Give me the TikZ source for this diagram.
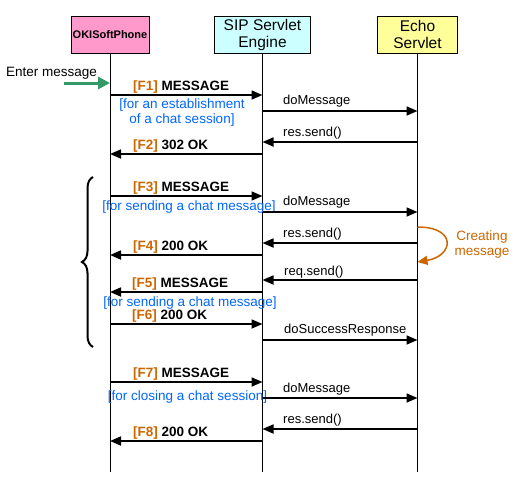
\documentclass[tikz,border=0pt]{standalone}
\usepackage{fontspec}
\setmainfont{Liberation Sans}
\usepackage{tikz}
\usetikzlibrary{arrows.meta,decorations.pathreplacing}
\definecolor{phonepink}{RGB}{255,153,204}
\definecolor{enginecyan}{RGB}{204,255,255}
\definecolor{echoyellow}{RGB}{255,255,153}
\definecolor{flowtag}{RGB}{204,102,0}
\definecolor{notetext}{RGB}{0,102,255}
\definecolor{inputgreen}{RGB}{51,153,102}
\tikzset{
  actor/.style={
    draw=black,
    line width=0.8pt,
    align=center,
    inner sep=0pt,
    minimum height=37pt,
    font=\fontsize{15.5}{17}\selectfont
  },
  lifeline/.style={draw=black,line width=0.8pt},
  msg/.style={-{Triangle[length=11pt,width=9pt]},draw=black,line width=1.7pt},
  msglabel/.style={inner sep=0pt,anchor=base west,font=\fontsize{13}{15}\selectfont},
  flabel/.style={msglabel,font=\fontsize{13.5}{15}\selectfont\bfseries},
  note/.style={inner sep=0pt,align=center,text=notetext,font=\fontsize{13.5}{15}\selectfont},
  entry/.style={-{Triangle[length=12pt,width=12pt]},draw=inputgreen,line width=3pt},
  selfcall/.style={-{Triangle[length=10pt,width=9pt]},draw=flowtag,line width=1.5pt},
  sessionbrace/.style={decorate,decoration={brace,amplitude=11pt},draw=black,line width=2pt}
}
\begin{document}
\begin{tikzpicture}[x=1pt,y=-1pt]
\useasboundingbox (0,0) rectangle (517,483);
% participants
\node[actor,fill=phonepink,minimum width=78pt,font=\fontsize{11}{13}\selectfont\bfseries] (phone) at (110,34.5) {OKISoftPhone};
\node[actor,fill=enginecyan,minimum width=96pt] (sip) at (262.5,34.5) {SIP Servlet\\Engine};
\node[actor,fill=echoyellow,minimum width=80pt] (echo) at (417.5,34.5) {Echo\\Servlet};
\coordinate (bottom) at (0,472);
\draw[lifeline] (phone.south) -- (phone |- bottom);
\draw[lifeline] (sip.south) -- (sip |- bottom);
\draw[lifeline] (echo.south) -- (echo |- bottom);
% message rows
\coordinate (in) at (64,83);
\coordinate (f1) at (0,95);
\coordinate (dm1) at (0,111);
\coordinate (rs1) at (0,142);
\coordinate (f2) at (0,154);
\coordinate (f3) at (0,196);
\coordinate (dm2) at (0,212);
\coordinate (c1) at (0,227);
\coordinate (rs2) at (0,243);
\coordinate (f4) at (0,255);
\coordinate (c2) at (0,262);
\coordinate (rq) at (0,280);
\coordinate (f5) at (0,292);
\coordinate (f6) at (0,324);
\coordinate (dsr) at (0,340);
\coordinate (f7) at (0,382);
\coordinate (dm3) at (0,398);
\coordinate (rs3) at (0,429);
\coordinate (f8) at (0,441);
% user input
\node[msglabel,font=\fontsize{13.5}{15}\selectfont] (enter) at (6,76) {Enter message};
\draw[entry] (in) -- (phone |- in);
% establishment
\draw[msg] (phone |- f1) -- (sip |- f1);
\node[flabel] (f1lab) at (133,90.5) {\textcolor{flowtag}{[F1]} MESSAGE};
\node[note] (n1) at (182,113) {[for an establishment\\of a chat session]};
\draw[msg] (sip |- dm1) -- (echo |- dm1);
\node[msglabel] (dm1lab) at (283,104.5) {doMessage};
\draw[msg] (echo |- rs1) -- (sip |- rs1);
\node[msglabel] (rs1lab) at (283,136) {res.send()};
\draw[msg] (sip |- f2) -- (phone |- f2);
\node[flabel] (f2lab) at (133,149.5) {\textcolor{flowtag}{[F2]} 302 OK};
% chat
\draw[sessionbrace] (93,347) coordinate (braceBot) -- (93,177) coordinate (braceTop);
\draw[msg] (phone |- f3) -- (sip |- f3);
\node[flabel] (f3lab) at (133,191.5) {\textcolor{flowtag}{[F3]} MESSAGE};
\node[note] (n2) at (189,207) {[for sending a chat message]};
\draw[msg] (sip |- dm2) -- (echo |- dm2);
\node[msglabel] (dm2lab) at (283,205.5) {doMessage};
\draw[msg] (echo |- rs2) -- (sip |- rs2);
\node[msglabel] (rs2lab) at (283,237.5) {res.send()};
\draw[msg] (sip |- f4) -- (phone |- f4);
\node[flabel] (f4lab) at (133,250.5) {\textcolor{flowtag}{[F4]} 200 OK};
\draw[selfcall] (echo |- c1) .. controls +(40,0) and +(36,-6) .. (echo |- c2);
\node[note,text=flowtag] (create) at (482,245) {Creating\\message};
\draw[msg] (echo |- rq) -- (sip |- rq);
\node[msglabel] (rqlab) at (284,275.5) {req.send()};
\draw[msg] (sip |- f5) -- (phone |- f5);
\node[flabel] (f5lab) at (132,287.5) {\textcolor{flowtag}{[F5]} MESSAGE};
\node[note] (n3) at (190,303) {[for sending a chat message]};
\draw[msg] (phone |- f6) -- (sip |- f6);
\node[flabel] (f6lab) at (132,319.5) {\textcolor{flowtag}{[F6]} 200 OK};
\draw[msg] (sip |- dsr) -- (echo |- dsr);
\node[msglabel] (dsrlab) at (284,333.5) {doSuccessResponse};
% closing
\draw[msg] (phone |- f7) -- (sip |- f7);
\node[flabel] (f7lab) at (133,377.5) {\textcolor{flowtag}{[F7]} MESSAGE};
\node[note] (n4) at (187.5,397) {[for closing a chat session]};
\draw[msg] (sip |- dm3) -- (echo |- dm3);
\node[msglabel] (dm3lab) at (283,392.5) {doMessage};
\draw[msg] (echo |- rs3) -- (sip |- rs3);
\node[msglabel] (rs3lab) at (283,423.5) {res.send()};
\draw[msg] (sip |- f8) -- (phone |- f8);
\node[flabel] (f8lab) at (133,436.5) {\textcolor{flowtag}{[F8]} 200 OK};
\end{tikzpicture}
\end{document}
